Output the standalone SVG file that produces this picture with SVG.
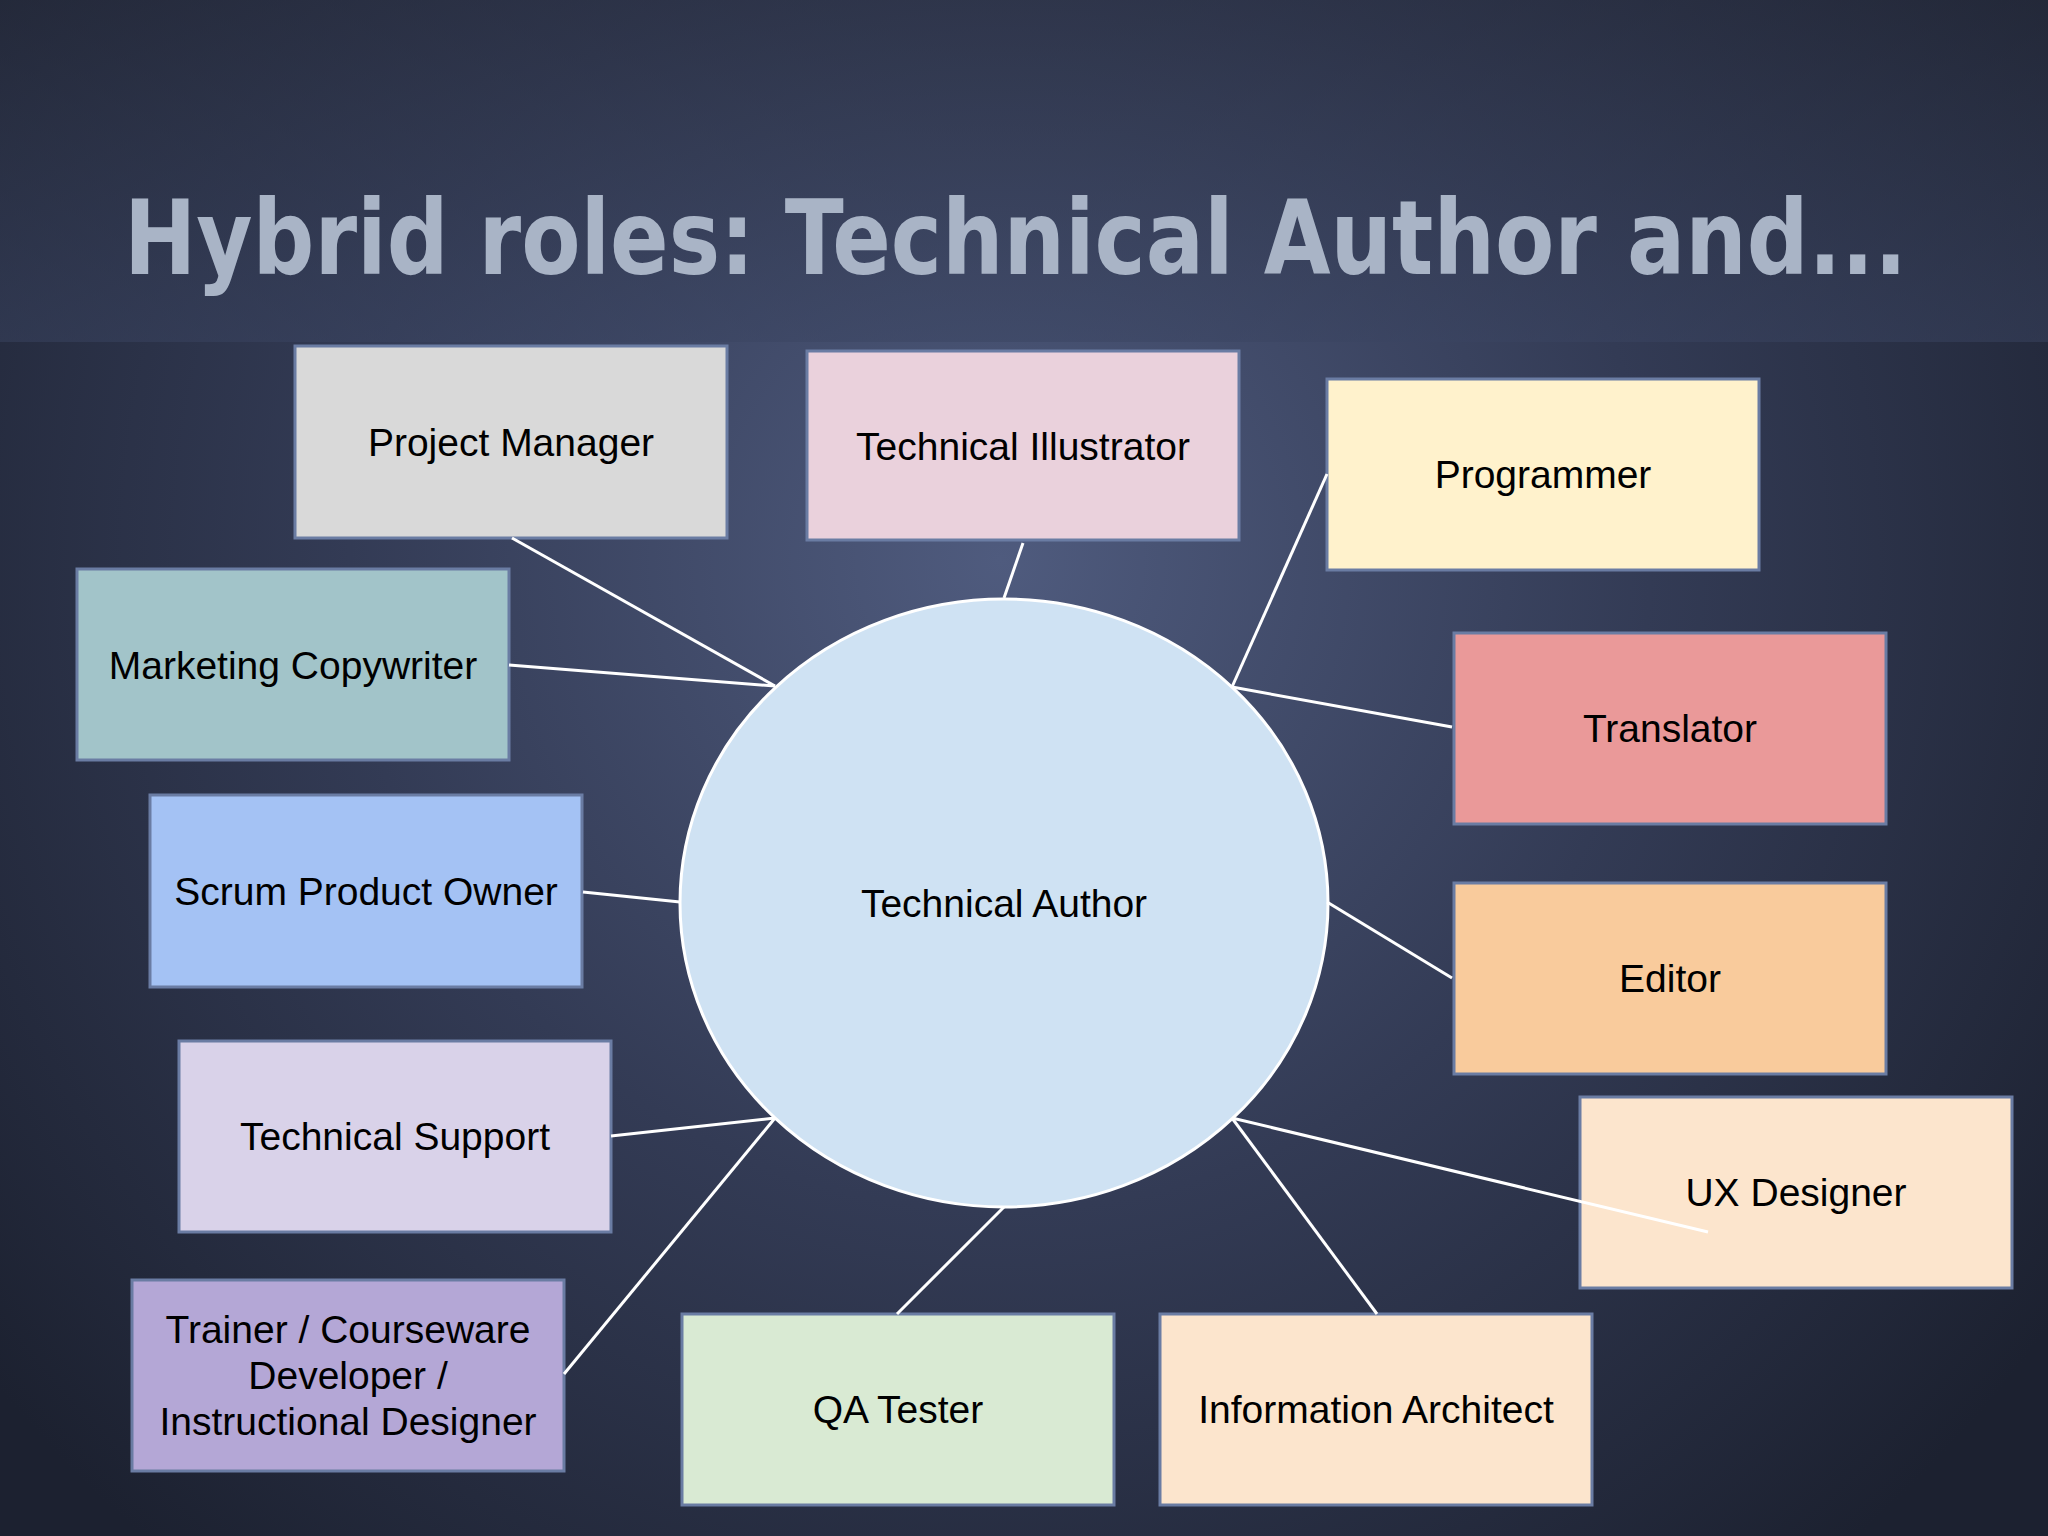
<svg xmlns="http://www.w3.org/2000/svg" width="2048" height="1536" viewBox="0 0 2048 1536">
<defs>
<radialGradient id="bg" cx="1000" cy="560" r="1300" gradientUnits="userSpaceOnUse">
<stop offset="0" stop-color="#4f5b7e"/><stop offset="0.5" stop-color="#333b55"/><stop offset="1" stop-color="#1c2130"/>
</radialGradient>
<linearGradient id="top" x1="0" y1="0" x2="0" y2="1">
<stop offset="0" stop-color="#262b3b"/><stop offset="1" stop-color="#3a4461"/>
</linearGradient>
<style>
.n rect{stroke:#6a7ca3;stroke-width:3}
.n text{font-family:"Liberation Sans",Arial,sans-serif;font-size:39px;fill:#000;text-anchor:middle;dominant-baseline:central}
#connectors line{stroke:#fff;stroke-width:3}
</style>
</defs>
<rect width="2048" height="1536" fill="url(#bg)"/>
<rect width="2048" height="342" fill="url(#top)" opacity="0.5"/>
<text x="124" y="274" font-family="'DejaVu Sans',sans-serif" font-weight="bold" font-size="104" fill="#a9b4c6" textLength="1783" lengthAdjust="spacingAndGlyphs">Hybrid roles: Technical Author and...</text>

<g id="center" class="n"><ellipse cx="1004" cy="903" rx="324" ry="304" fill="#cfe2f3" stroke="#fff" stroke-width="3"/><text x="1004" y="903">Technical Author</text></g>
<g id="pm" class="n"><rect x="295" y="346" width="432" height="192" fill="#d9d9d9"/><text x="511" y="442">Project Manager</text></g>
<g id="ti" class="n"><rect x="807" y="351" width="432" height="189" fill="#ead1dc"/><text x="1023" y="446">Technical Illustrator</text></g>
<g id="prog" class="n"><rect x="1327" y="379" width="432" height="191" fill="#fff2cc"/><text x="1543" y="474">Programmer</text></g>
<g id="mc" class="n"><rect x="77" y="569" width="432" height="191" fill="#a2c4c9"/><text x="293" y="665">Marketing Copywriter</text></g>
<g id="tr" class="n"><rect x="1454" y="633" width="432" height="191" fill="#ea9999"/><text x="1670" y="728">Translator</text></g>
<g id="spo" class="n"><rect x="150" y="795" width="432" height="192" fill="#a4c2f4"/><text x="366" y="891">Scrum Product Owner</text></g>
<g id="ed" class="n"><rect x="1454" y="883" width="432" height="191" fill="#f9cb9c"/><text x="1670" y="978">Editor</text></g>
<g id="ts" class="n"><rect x="179" y="1041" width="432" height="191" fill="#d9d2e9"/><text x="395" y="1136">Technical Support</text></g>
<g id="ux" class="n"><rect x="1580" y="1097" width="432" height="191" fill="#fce5cd"/><text x="1796" y="1192">UX Designer</text></g>
<g id="trainer" class="n"><rect x="132" y="1280" width="432" height="191" fill="#b4a7d6"/><text x="348" y="1329">Trainer / Courseware</text><text x="348" y="1375">Developer /</text><text x="348" y="1421">Instructional Designer</text></g>
<g id="qa" class="n"><rect x="682" y="1314" width="432" height="191" fill="#d9ead3"/><text x="898" y="1409">QA Tester</text></g>
<g id="ia" class="n"><rect x="1160" y="1314" width="432" height="191" fill="#fce5cd"/><text x="1376" y="1409">Information Architect</text></g>

<g id="connectors">
<line x1="512" y1="538" x2="775" y2="686"/>
<line x1="1023" y1="543" x2="1004" y2="598"/>
<line x1="1327" y1="474" x2="1232" y2="687"/>
<line x1="509" y1="665" x2="775" y2="686"/>
<line x1="1452" y1="727" x2="1232" y2="687"/>
<line x1="583" y1="892" x2="680" y2="902"/>
<line x1="1452" y1="978" x2="1327" y2="902"/>
<line x1="611" y1="1136" x2="775" y2="1118"/>
<line x1="1708" y1="1232" x2="1232" y2="1118"/>
<line x1="564" y1="1374" x2="775" y2="1118"/>
<line x1="897" y1="1314" x2="1004" y2="1207"/>
<line x1="1377" y1="1314" x2="1232" y2="1118"/>
</g>
</svg>
